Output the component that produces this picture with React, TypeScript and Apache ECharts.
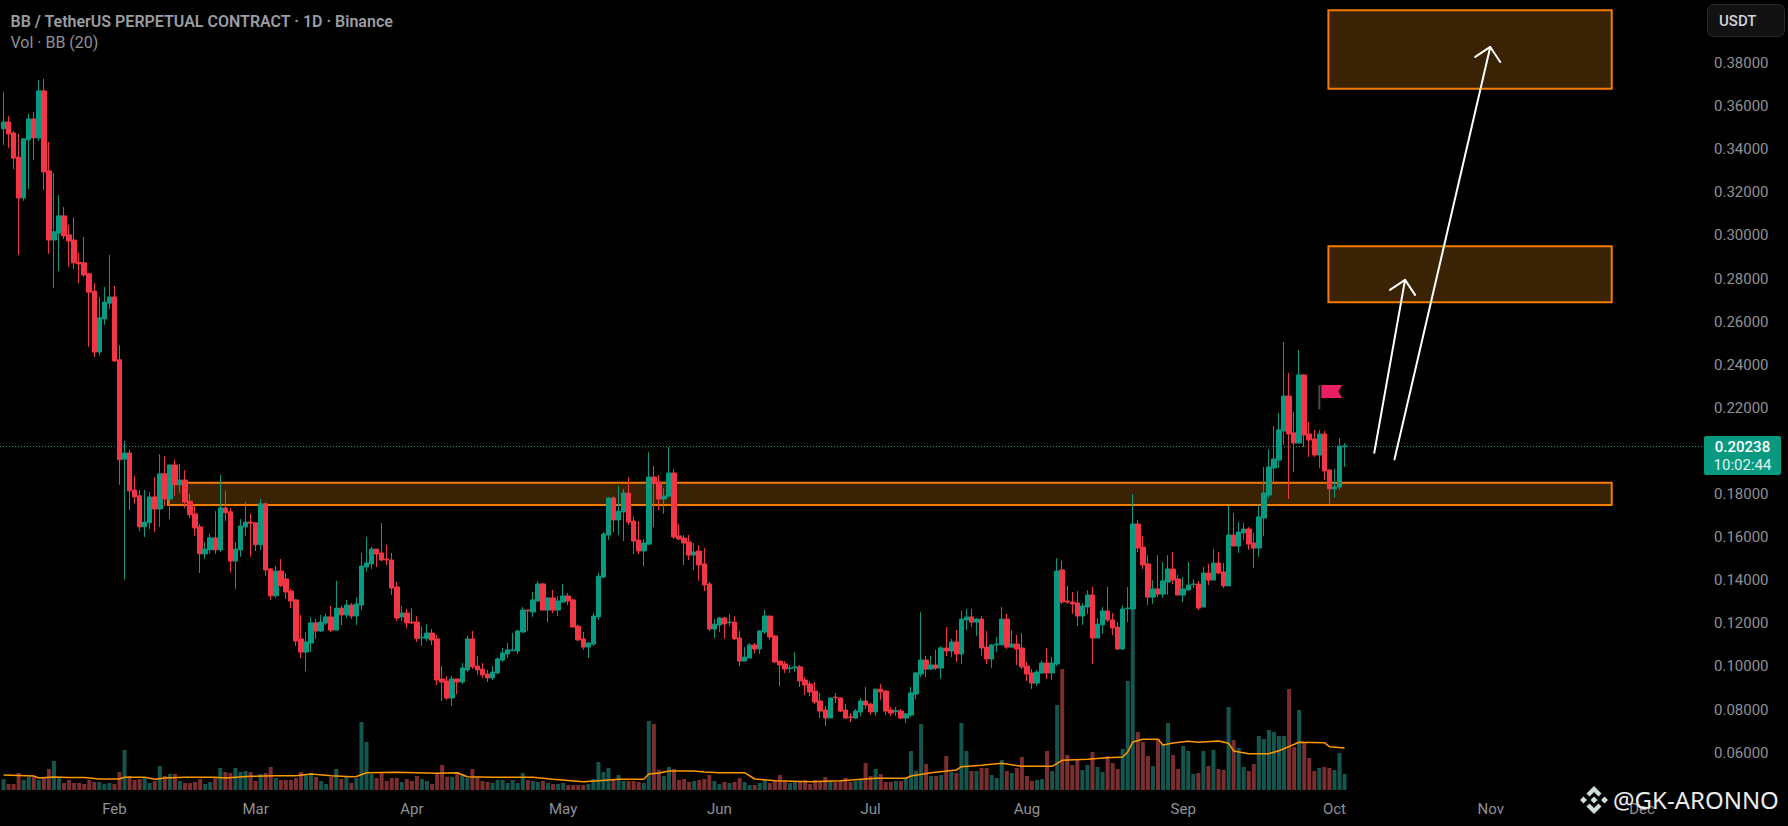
import React, { useEffect, useRef } from "react";
import * as echarts from "echarts";

// Each row: [open, close, low, high]
const candlesJan = [
[.3495,.3527,.3420,.3666],[.3527,.3471,.3405,.3554],[.3476,.3359,.3308,.3485],[.3364,.3174,.2910,.3471],[.3174,.3449,.3161,.3449],
[.3444,.3541,.3215,.3564],[.3541,.3453,.3351,.3573],[.3453,.3671,.3439,.3722],[.3671,.3295,.3212,.3727],[.3300,.2979,.2915,.3434],
[.2979,.3017,.2757,.3290],[.3012,.3091,.2835,.3188],[.3091,.2998,.2983,.3132],[.3003,.2974,.2854,.3049],[.2979,.2873,.2845,.3084],
[.2876,.2868,.2779,.2920],[.2873,.2817,.2808,.2993],[.2822,.2737,.2483,.2827],[.2742,.2459,.2437,.2779],[.2459,.2618,.2442,.2715],
[.2613,.2691,.2586,.2761],[.2686,.2715,.2659,.2910]];
const candlesFeb = [
[.2715,.2418,.2413,.2766],[.2423,.1959,.1843,.2491],[.1962,.1991,.1402,.2047],[.1991,.1815,.1726,.2006],[.1819,.1787,.1755,.1884],
[.1792,.1648,.1628,.1819],[.1648,.1670,.1601,.1819],[.1667,.1787,.1638,.1809],[.1787,.1731,.1624,.1879],[.1731,.1894,.1648,.1986],
[.1894,.1777,.1745,.1977],[.1777,.1935,.1684,.1935],[.1935,.1843,.1792,.1959],[.1843,.1865,.1806,.1940],[.1865,.1763,.1736,.1911],
[.1767,.1704,.1689,.1801],[.1708,.1643,.1606,.1745],[.1648,.1523,.1434,.1662],[.1523,.1545,.1499,.1577],[.1542,.1597,.1523,.1616],
[.1597,.1541,.1523,.1721],[.1541,.1736,.1531,.1889],[.1736,.1713,.1675,.1815],[.1718,.1489,.1438,.1736],[.1489,.1545,.1360,.1577],
[.1541,.1652,.1509,.1684],[.1648,.1670,.1606,.1763],[.1670,.1665,.1509,.1708]];
const candlesMar = [
[.1667,.1565,.1536,.1670],[.1565,.1755,.1541,.1777],[.1755,.1448,.1421,.1760],[.1453,.1328,.1309,.1456],[.1328,.1443,.1319,.1467],
[.1443,.1375,.1369,.1499],[.1406,.1346,.1313,.1434],[.1350,.1304,.1271,.1360],[.1309,.1118,.1095,.1313],[.1128,.1067,.1039,.1239],
[.1067,.1114,.0978,.1160],[.1109,.1202,.1067,.1230],[.1202,.1165,.1128,.1220],[.1165,.1206,.1160,.1239],[.1202,.1230,.1192,.1244],
[.1230,.1169,.1160,.1281],[.1169,.1271,.1169,.1397],[.1271,.1239,.1192,.1281],[.1239,.1285,.1225,.1309],[.1285,.1234,.1220,.1295],
[.1234,.1290,.1192,.1322],[.1285,.1466,.1262,.1527],[.1462,.1480,.1439,.1601],[.1476,.1545,.1452,.1555],[.1545,.1522,.1462,.1545],
[.1527,.1494,.1489,.1666],[.1499,.1494,.1471,.1564],[.1494,.1364,.1332,.1527],[.1369,.1225,.1211,.1392],[.1230,.1248,.1211,.1281],
[.1248,.1202,.1178,.1267]];
const candlesApr = [
[.1206,.1202,.1196,.1271],[.1206,.1131,.1114,.1234],[.1133,.1136,.1095,.1187],[.1131,.1155,.1118,.1196],[.1155,.1123,.1099,.1174],
[.1128,.0937,.0914,.1146],[.0942,.0928,.0840,.1002],[.0933,.0854,.0845,.0956],[.0854,.0942,.0817,.0956],[.0942,.0928,.0872,.0942],
[.0928,.0993,.0919,.1016],[.0984,.1128,.0974,.1142],[.1128,.0998,.0988,.1165],[.1002,.0984,.0961,.1049],[.0988,.0961,.0947,.1016],
[.0965,.0947,.0928,.0984],[.0947,.0974,.0937,.1002],[.0970,.1035,.0965,.1044],[.1030,.1063,.1021,.1086],[.1058,.1077,.1039,.1109],
[.1073,.1077,.1072,.1155],[.1072,.1165,.1058,.1169],[.1160,.1262,.1155,.1276],[.1262,.1258,.1165,.1262],[.1253,.1309,.1230,.1346],
[.1304,.1383,.1299,.1397],[.1383,.1262,.1262,.1387],[.1262,.1318,.1206,.1322],[.1318,.1262,.1248,.1355],[.1262,.1304,.1234,.1327]];
const candlesMay = [
[.1299,.1327,.1299,.1383],[.1327,.1304,.1285,.1341],[.1309,.1183,.1183,.1313],[.1187,.1123,.1118,.1196],[.1128,.1090,.1077,.1160],
[.1090,.1109,.1039,.1114],[.1104,.1234,.1095,.1248],[.1230,.1419,.1216,.1434],[.1415,.1615,.1411,.1624],[.1610,.1782,.1587,.1786],
[.1782,.1680,.1624,.1791],[.1680,.1721,.1610,.1838],[.1717,.1805,.1582,.1824],[.1805,.1670,.1657,.1879],[.1675,.1582,.1522,.1694],
[.1587,.1536,.1522,.1675],[.1536,.1573,.1466,.1592],[.1568,.1879,.1564,.1995],[.1879,.1851,.1647,.1930],[.1856,.1777,.1726,.1889],
[.1777,.1791,.1708,.1828],[.1791,.1898,.1787,.2019],[.1898,.1601,.1592,.1916],[.1606,.1592,.1587,.1661],[.1596,.1573,.1471,.1610],
[.1578,.1517,.1494,.1610],[.1517,.1531,.1448,.1573],[.1536,.1471,.1397,.1564],[.1476,.1378,.1350,.1550],[.1383,.1174,.1165,.1392],
[.1174,.1197,.1132,.1220]];
const candlesJun = [
[.1193,.1225,.1160,.1230],[.1225,.1197,.1128,.1230],[.1203,.1206,.1188,.1244],[.1206,.1128,.1123,.1234],[.1132,.1025,.1002,.1165],
[.1025,.1044,.1025,.1090],[.1039,.1100,.1039,.1109],[.1100,.1081,.1063,.1109],[.1081,.1165,.1058,.1169],[.1160,.1234,.1151,.1262],
[.1234,.1137,.1123,.1234],[.1142,.1021,.1016,.1146],[.1025,.1007,.0909,.1025],[.1012,.0988,.0970,.1025],[.0990,.0993,.0970,.1007],
[.0995,.0998,.0974,.1067],[.0998,.0933,.0905,.1007],[.0937,.0914,.0868,.0951],[.0919,.0882,.0863,.0933],[.0886,.0835,.0826,.0928],
[.0840,.0793,.0761,.0877],[.0798,.0761,.0724,.0817],[.0761,.0854,.0761,.0858],[.0858,.0855,.0831,.0877],[.0854,.0793,.0789,.0858],
[.0798,.0761,.0756,.0826],[.0766,.0763,.0742,.0784],[.0761,.0793,.0756,.0803],[.0789,.0840,.0770,.0854],[.0840,.0821,.0803,.0905]];
const candlesJul = [
[.0826,.0789,.0775,.0831],[.0789,.0895,.0770,.0895],[.0895,.0882,.0844,.0919],[.0886,.0793,.0775,.0891],[.0798,.0784,.0770,.0812],
[.0792,.0795,.0770,.0812],[.0793,.0761,.0756,.0803],[.0761,.0780,.0738,.0784],[.0775,.0877,.0766,.0905],[.0872,.0970,.0849,.0974],
[.0965,.1030,.0951,.1253],[.1030,.0988,.0951,.1049],[.0988,.1007,.0984,.1049],[.1007,.0993,.0984,.1077],[.0993,.1086,.0942,.1095],
[.1086,.1072,.1049,.1183],[.1072,.1114,.1044,.1128],[.1114,.1058,.1021,.1169],[.1058,.1220,.1012,.1258],[.1216,.1230,.1169,.1267],
[.1230,.1206,.1183,.1267],[.1206,.1220,.1142,.1225],[.1220,.1086,.1049,.1234],[.1090,.1035,.1012,.1165],[.1035,.1100,.0993,.1104],
[.1100,.1104,.1067,.1137],[.1100,.1220,.1100,.1276],[.1220,.1090,.1081,.1244],[.1090,.1104,.1090,.1169],[.1104,.1081,.1007,.1146],
[.1086,.0998,.0988,.1155]];
const candlesAug = [
[.1002,.0965,.0933,.1021],[.0970,.0923,.0896,.0988],[.0923,.0974,.0910,.0984],[.0970,.1016,.0965,.1026],[.1016,.0970,.0942,.1086],
[.0970,.1016,.0937,.1044],[.1012,.1443,.1002,.1503],[.1448,.1299,.1290,.1490],[.1304,.1299,.1290,.1374],[.1299,.1290,.1244,.1346],
[.1295,.1234,.1188,.1350],[.1234,.1281,.1193,.1295],[.1276,.1332,.1244,.1355],[.1332,.1132,.1012,.1369],[.1132,.1197,.1132,.1225],
[.1193,.1258,.1151,.1276],[.1258,.1216,.1206,.1369],[.1216,.1179,.1146,.1248],[.1183,.1081,.1077,.1206],[.1081,.1267,.1077,.1285],
[.1268,.1271,.1206,.1369],[.1267,.1661,.1262,.1800],[.1661,.1550,.1531,.1680],[.1554,.1471,.1452,.1606],[.1476,.1322,.1285,.1517],
[.1322,.1360,.1290,.1401],[.1360,.1336,.1322,.1517],[.1336,.1397,.1318,.1485],[.1392,.1452,.1332,.1517],[.1452,.1401,.1383,.1531],
[.1406,.1332,.1332,.1425]];
const candlesSep = [
[.1332,.1360,.1299,.1415],[.1355,.1378,.1350,.1485],[.1380,.1383,.1364,.1406],[.1383,.1271,.1262,.1397],[.1276,.1434,.1276,.1462],
[.1434,.1401,.1378,.1476],[.1401,.1480,.1401,.1545],[.1480,.1434,.1429,.1531],[.1439,.1374,.1364,.1480],[.1374,.1610,.1374,.1745],
[.1610,.1559,.1559,.1712],[.1559,.1624,.1527,.1670],[.1620,.1638,.1587,.1666],[.1638,.1568,.1541,.1647],[.1573,.1550,.1457,.1620],
[.1550,.1694,.1508,.1749],[.1689,.1805,.1606,.1926],[.1796,.1926,.1782,.2009],[.1921,.1963,.1852,.2116],[.1958,.2098,.1921,.2176],
[.2093,.2255,.2028,.2506],[.2255,.2079,.1777,.2362],[.2084,.2037,.1903,.2181],[.2037,.2353,.2032,.2469],[.2353,.2074,.2019,.2357],
[.2079,.2051,.1972,.2135],[.2056,.1981,.1972,.2098],[.1981,.2079,.1921,.2098],[.2079,.1907,.1865,.2093],[.1912,.1824,.1754,.1912]];
const candlesOct = [[.1824,.1833,.1782,.1917],[.1833,.2023,.1819,.2060],[.2020,.20238,.1926,.2037]];

const volJan = [11,6,6,17,10,13,13,10,12,21,29,13,7,10,7,7,6,10,8,8,6,7];
const volFeb = [6,18,40,14,10,11,12,7,9,24,14,16,16,9,7,7,8,11,6,8,13,22,18,17,22,18,19,18];
const volMar = [9,16,17,23,12,10,10,10,12,18,15,17,13,9,6,13,21,11,13,7,12,68,48,16,12,17,9,12,12,8,11];
const volApr = [9,14,11,9,6,16,25,13,13,18,16,12,21,13,9,8,7,10,10,7,10,7,17,10,9,8,9,7,6,6];
const volMay = [7,5,5,5,5,6,11,28,18,22,10,15,9,9,9,8,7,69,66,20,14,23,21,10,11,8,9,10,11,15,9];
const volJun = [6,8,7,8,12,8,5,5,7,10,7,10,15,8,7,8,8,10,6,10,9,13,9,8,9,12,8,9,10,27];
const volJul = [14,21,16,8,8,9,9,12,39,19,66,26,14,14,15,34,18,17,67,39,19,19,22,22,15,12,30,19,17,22,33];
const volAug = [14,9,10,11,39,19,85,121,35,25,30,20,25,38,23,18,34,27,21,41,109,185,58,48,34,24,51,46,67,35,21];
const volSep = [44,39,16,17,39,24,40,21,20,83,50,42,23,19,26,54,51,60,58,54,54,101,43,80,48,32,19,22,23,22];
const volOct = [20,37,16];

// Vol SMA(20), read at the candle numbers in maAt
const maAt = [0,6,7,10,13,16,19,23,24,28,30,32,36,42,44,49,54,58,61,65,69,70,72,78,86,90,92,97,105,109,115,118,122,127,128,130,132,137,139,142,147,149,153,160,166,173,179,180,184,189,190,194,198,202,208,210,215,219,222,223,224,226,229,230,232,235,237,241,243,244,247,251,253,257,262,263,266];
const maVal = [15,14,12,13,12.5,12.5,11,11,12.7,12.7,10.7,12,12.7,12.7,12,13.7,14.3,14.3,16,14.3,13.3,13.5,17.3,17.7,16.7,17.3,13.3,12.7,12.7,10.7,8.3,9.3,10.7,10.7,16,17,19,19,18,17.3,17.3,11,9.3,8.3,9.3,11.7,11.7,14,17.3,20,23.3,24.7,26.7,23.7,23.7,29.7,30.7,32.3,33,38,48,50.7,50.7,45,47,48.7,47.7,49,46.7,39,36.3,36.3,39.3,47.7,47.3,43.3,42];

const monthTickAt = [22,50,81,111,142,172,203,234,264,295,325];
const monthTickLabels = ["Feb","Mar","Apr","May","Jun","Jul","Aug","Sep","Oct","Nov","Dec"];
const priceTicksHidden = [0.04, 0.2, 0.4];

const lastPrice = 0.20238;
const countdown = "10:02:44";
const slotCount = 338;

// Zones: candle-number span and price span
const zoneFrom = [262.8, 262.8, 32.6];
const zoneTo = [319, 319, 319];
const zoneTop = [0.4045, 0.2950, 0.1853];
const zoneBottom = [0.3681, 0.2690, 0.1749];

// Arrows: tail and tip in candle number and price
const arrowFrom = [271.9, 275.9];
const arrowFromPrice = [0.1992, 0.1961];
const arrowTo = [278.0, 294.9];
const arrowToPrice = [0.2794, 0.3875];

const flagAt = 261;
const flagPrices = [0.2306, 0.2193];

const candles = [...candlesJan, ...candlesFeb, ...candlesMar, ...candlesApr, ...candlesMay, ...candlesJun, ...candlesJul, ...candlesAug, ...candlesSep, ...candlesOct];
const volumes = [...volJan, ...volFeb, ...volMar, ...volApr, ...volMay, ...volJun, ...volJul, ...volAug, ...volSep, ...volOct];
const categories = Array.from({ length: slotCount }, (_, i) => String(i));

const UP = "#089981";
const DOWN = "#F23645";
const AXIS_TEXT = "#8f9196";
const FONT = "Roboto, sans-serif";

const xAt = (api: any, n: number) => {
  const f = Math.floor(n);
  return api.coord([f, 0.2])[0] + (n - f) * api.size([1, 0])[0];
};
const yAt = (api: any, p: number) => api.coord([0, p])[1];

export default function App() {
  const ref = useRef<HTMLDivElement>(null);
  useEffect(() => {
    const chart = echarts.init(ref.current!, null, { renderer: "svg" });
    const cx = 1594, cy = 800;
    const logoFill = "#cfe0dc";
    chart.setOption({
      animation: false,
      backgroundColor: "#000",
      grid: [
        { left: 1, width: 1704, top: 0, height: 795.8 },
        { left: 1, width: 1704, top: 600, height: 190 },
      ],
      xAxis: [
        { type: "category", gridIndex: 0, data: categories, show: false },
        {
          type: "category", gridIndex: 1, data: categories,
          axisLine: { show: false }, axisTick: { show: false }, splitLine: { show: false },
          axisLabel: {
            color: AXIS_TEXT, fontFamily: FONT, fontSize: 15, margin: 11,
            interval: (i: number) => monthTickAt.includes(i),
            formatter: (_: string, i: number) => monthTickLabels[monthTickAt.indexOf(i)] ?? "",
          },
        },
      ],
      yAxis: [
        {
          type: "value", gridIndex: 0, position: "right", min: 0.04, max: 0.40928, interval: 0.02, scale: true,
          axisLine: { show: false }, axisTick: { show: false }, splitLine: { show: false },
          axisLabel: {
            color: AXIS_TEXT, fontFamily: FONT, fontSize: 15, margin: 9, align: "left", showMinLabel: true, showMaxLabel: true,
            formatter: (v: number) => (v > 0.39 || priceTicksHidden.some((h) => Math.abs(h - v) < 1e-6)) ? "" : v.toFixed(5),
          },
        },
        { type: "value", gridIndex: 1, min: 0, max: 190, show: false },
      ],
      series: [
        {
          type: "bar", name: "Vol", xAxisIndex: 1, yAxisIndex: 1, data: volumes, barWidth: 4, z: 1,
          itemStyle: { color: (p: any) => (candles[p.dataIndex][1] >= candles[p.dataIndex][0] ? "#14554d" : "#7a2e30") },
        },
        {
          type: "line", name: "Vol SMA", xAxisIndex: 1, yAxisIndex: 1, z: 2, showSymbol: false, symbol: "none",
          data: maAt.map((n, i) => [n, maVal[i]]),
          lineStyle: { color: "#ff9800", width: 1.5 },
        },
        {
          type: "custom", name: "Last price", xAxisIndex: 0, yAxisIndex: 0, z: 1, silent: true,
          data: [[0, lastPrice]],
          renderItem: (_: any, api: any) => {
            const y = Math.round(yAt(api, lastPrice)) + 0.5;
            return {
              type: "line",
              shape: { x1: 0, y1: y, x2: 1705, y2: y },
              style: { stroke: UP, lineWidth: 1, lineDash: [1, 2] },
            };
          },
        },
        {
          type: "custom", name: "Zones", xAxisIndex: 0, yAxisIndex: 0, z: 2, silent: true,
          data: zoneFrom.map((_, i) => [i, 0.2]),
          renderItem: (params: any, api: any) => {
            const i = params.dataIndex;
            const x0 = xAt(api, zoneFrom[i]), x1 = xAt(api, zoneTo[i]);
            const y0 = yAt(api, zoneTop[i]), y1 = yAt(api, zoneBottom[i]);
            return {
              type: "rect",
              shape: { x: x0, y: y0, width: x1 - x0, height: y1 - y0 },
              style: { fill: "#3a2204", stroke: "#f57c00", lineWidth: 2 },
            };
          },
        },
        {
          type: "candlestick", name: "BB", xAxisIndex: 0, yAxisIndex: 0, data: candles, barWidth: 5, z: 3,
          itemStyle: { color: UP, color0: DOWN, borderColor: UP, borderColor0: DOWN, borderWidth: 1 },
        },
        {
          type: "custom", name: "Arrows", xAxisIndex: 0, yAxisIndex: 0, z: 5, silent: true,
          data: arrowFrom.map((_, i) => [i, 0.2]),
          renderItem: (params: any, api: any) => {
            const i = params.dataIndex;
            const tx = xAt(api, arrowTo[i]), ty = yAt(api, arrowToPrice[i]);
            const line = { stroke: "#fff", lineWidth: 2, lineCap: "round", lineJoin: "round", fill: "none" };
            return {
              type: "group",
              children: [
                { type: "line", shape: { x1: xAt(api, arrowFrom[i]), y1: yAt(api, arrowFromPrice[i]), x2: tx, y2: ty }, style: line },
                { type: "polyline", shape: { points: [[tx - 15, ty + 10], [tx, ty], [tx + 10, ty + 15]] }, style: line },
              ],
            };
          },
        },
        {
          type: "custom", name: "Flag", xAxisIndex: 0, yAxisIndex: 0, z: 5, silent: true,
          data: [[flagAt, 0.2]],
          renderItem: (_: any, api: any) => {
            const x = xAt(api, flagAt), y0 = yAt(api, flagPrices[0]), y1 = yAt(api, flagPrices[1]);
            return {
              type: "group",
              children: [
                { type: "line", shape: { x1: x, y1: y0, x2: x, y2: y1 }, style: { stroke: "#4a4a4a", lineWidth: 2 } },
                {
                  type: "polygon",
                  shape: { points: [[x + 2, y0], [x + 23, y0], [x + 19, y0 + 6.5], [x + 23, y0 + 13], [x + 2, y0 + 13]] },
                  style: { fill: "#e91e63" },
                },
              ],
            };
          },
        },
      ],
      graphic: [
        { type: "text", x: 10.5, y: 13, z: 20, style: { text: "BB / TetherUS PERPETUAL CONTRACT · 1D · Binance", fill: "#9b9da3", font: `600 16px ${FONT}` } },
        { type: "text", x: 10.5, y: 34, z: 20, style: { text: "Vol · BB (20)", fill: "#8f9196", font: `400 16px ${FONT}` } },
        { type: "rect", x: 1707.5, y: 4.5, z: 20, shape: { width: 77, height: 32, r: 6 }, style: { fill: "#121212", stroke: "#2a2a2a", lineWidth: 1 } },
        { type: "text", x: 1719, y: 13, z: 21, style: { text: "USDT", fill: "#d1d4dc", font: `500 15px ${FONT}` } },
        { type: "rect", x: 1704, y: 436, z: 20, shape: { width: 77, height: 39, r: 2 }, style: { fill: UP } },
        { type: "text", x: 1742.5, y: 447, z: 21, style: { text: lastPrice.toFixed(5), fill: "#fff", font: `500 15px ${FONT}`, align: "center", verticalAlign: "middle" } },
        { type: "text", x: 1742.5, y: 465, z: 21, style: { text: countdown, fill: "#e0f2ee", font: `400 15px ${FONT}`, align: "center", verticalAlign: "middle" } },
        { type: "polygon", z: 20, shape: { points: [[cx, cy - 14], [cx + 7.5, cy - 6.5], [cx + 4.5, cy - 3.5], [cx, cy - 8], [cx - 4.5, cy - 3.5], [cx - 7.5, cy - 6.5]] }, style: { fill: logoFill } },
        { type: "polygon", z: 20, shape: { points: [[cx, cy + 14], [cx + 7.5, cy + 6.5], [cx + 4.5, cy + 3.5], [cx, cy + 8], [cx - 4.5, cy + 3.5], [cx - 7.5, cy + 6.5]] }, style: { fill: logoFill } },
        { type: "polygon", z: 20, shape: { points: [[cx - 14, cy], [cx - 10.5, cy - 3.5], [cx - 7, cy], [cx - 10.5, cy + 3.5]] }, style: { fill: logoFill } },
        { type: "polygon", z: 20, shape: { points: [[cx + 14, cy], [cx + 10.5, cy - 3.5], [cx + 7, cy], [cx + 10.5, cy + 3.5]] }, style: { fill: logoFill } },
        { type: "polygon", z: 20, shape: { points: [[cx, cy - 3.5], [cx + 3.5, cy], [cx, cy + 3.5], [cx - 3.5, cy]] }, style: { fill: logoFill } },
        { type: "text", x: 1613, y: 799, z: 20, style: { text: "@GK-ARONNO", fill: "#ececec", font: "400 24px 'Noto Sans', sans-serif", verticalAlign: "middle" } },
      ],
    });
    return () => chart.dispose();
  }, []);
  return <div ref={ref} style={{ position: "absolute", left: 0, top: 0, width: 1788, height: 826, overflow: "hidden" }} />;
}
